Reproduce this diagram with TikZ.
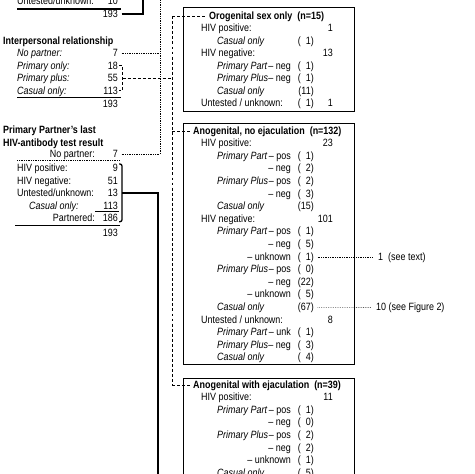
\documentclass[tikz,border=0pt]{standalone}
\usepackage{fontspec}
\setmainfont{Liberation Sans}[FakeStretch=0.85]
\usetikzlibrary{calc}
\newcommand\figfont{\fontsize{9}{10}\selectfont}
\tikzset{
  txt/.style      ={inner sep=0pt, font=\figfont},
  lvA/.style      ={txt, anchor=base west},
  lvB/.style      ={txt, anchor=base west, font=\figfont\itshape},
  ttl/.style      ={txt, anchor=base west, font=\figfont\bfseries},
  sfx/.style      ={txt, anchor=base east},
  cnt/.style      ={txt, anchor=base east},
  panel/.style    ={draw, line width=0.6pt, inner sep=0pt, anchor=north west,
                    minimum width=5.13cm},
  rulethick/.style={line width=1.4pt},
  rulethin/.style ={line width=0.6pt},
  solidlink/.style={line width=1.1pt},
  dashlink/.style ={line width=0.7pt, dash pattern=on 2.5pt off 1.8pt},
  dotlink/.style  ={line width=0.5pt, densely dotted},
}
\begin{document}
\begin{tikzpicture}[x=0.03cm, y=-0.03cm]
\useasboundingbox (0,0) rectangle (474,474);

% --- junction points ---
\coordinate (stop)   at (143,0);
\coordinate (dtop)   at (160,0);
\coordinate (trunk)  at (172,0);
\coordinate (bot)    at (158,480);

% --- left: tail of previous block ---
\node[lvA] (unL) at (17,4.5) {Untested/unknown:};
\node[cnt] (unN) at (118,4.5) {10};
\draw[rulethick] (17,9) -- (121,9);
\node[cnt] (t1) at (118,17.5) {193};

% --- left: interpersonal relationship ---
\node[ttl] (ipH) at (3,44) {Interpersonal relationship};
\node[lvB] (ipNoL)   at (17,56.5) {No partner:};
\node[lvB] (ipPriL)  at (17,69)   {Primary only:};
\node[lvB] (ipPlusL) at (17,81.5) {Primary plus:};
\node[lvB] (ipCasL)  at (17,94)   {Casual only:};
\node[cnt] (ipNo)   at (118,56.5) {7};
\node[cnt] (ipPri)  at (118,69)   {18};
\node[cnt] (ipPlus) at (118,81.5) {55};
\node[cnt] (ipCas)  at (118,94)   {113};
\draw[rulethick] (17,97.5) -- (121,97.5);
\node[cnt] (t2) at (118,107.5) {193};

% --- left: primary partner's test result ---
\node[ttl] (ppH1) at (3,133)   {Primary Partner's last};
\node[ttl] (ppH2) at (3,146.5) {HIV-antibody test result};
\node[sfx] (ppNoL)   at (95,157.5)  {No partner:};
\node[cnt] (ppNo)    at (118,157.5) {7};
\draw[dotlink, line width=0.7pt] (17,160.5) -- (120,160.5);
\node[lvA] (ppPosL)  at (17,171.5) {HIV positive:};
\node[lvA] (ppNegL)  at (17,184)   {HIV negative:};
\node[lvA] (ppUnkL)  at (17,196.5) {Untested/unknown:};
\node[lvB] (ppCasL)  at (29,209)   {Casual only:};
\node[sfx] (ppPartL) at (95,221.5) {Partnered:};
\node[cnt] (ppPos)  at (118,171.5) {9};
\node[cnt] (ppNeg)  at (118,184)   {51};
\node[cnt] (ppUnk)  at (118,196.5) {13};
\node[cnt] (ppCas)  at (118,209)   {113};
\node[cnt] (ppPart) at (118,221.5) {186};
\draw[rulethin] (95,211.5) -- (119,211.5);
\draw[rulethick] (15,225.5) -- (120,225.5);
\node[cnt] (t3) at (118,236.5) {193};

% --- panels ---
\node[panel, minimum height=3.12cm] (oro)  at (183,7)   {};
\node[panel, minimum height=7.23cm] (noej) at (183,123) {};
\node[panel, minimum height=3.8cm]  (ejac) at (183,378) {};

% --- panel 1: orogenital ---
\node[ttl] (oT) at (209,19) {Orogenital sex only\ \ (n=15)};
\node[lvA] (o1) at (201,31.5)  {HIV positive:};
\node[cnt] (o1n) at (333,31.5) {1};
\node[lvB] (o2) at (217,44)    {Casual only};
\node[cnt] (o2p) at (314,44)   {(\phantom{0}1)};
\node[lvA] (o3) at (201,56.5)  {HIV negative:};
\node[cnt] (o3n) at (333,56.5) {13};
\node[lvB] (o4) at (217,69)    {Primary Part};
\node[sfx] (o4s) at (291,69)   {\textendash\ neg};
\node[cnt] (o4p) at (314,69)   {(\phantom{0}1)};
\node[lvB] (o5) at (217,81.5)  {Primary Plus};
\node[sfx] (o5s) at (291,81.5) {\textendash\ neg};
\node[cnt] (o5p) at (314,81.5) {(\phantom{0}1)};
\node[lvB] (o6) at (217,94)    {Casual only};
\node[cnt] (o6p) at (314,94)   {(11)};
\node[lvA] (o7) at (201,106.5) {Untested / unknown:};
\node[cnt] (o7p) at (314,106.5) {(\phantom{0}1)};
\node[cnt] (o7n) at (333,106.5) {1};

% --- panel 2: anogenital, no ejaculation ---
\node[ttl] (nT) at (193,134) {Anogenital, no ejaculation\ \ (n=132)};
\node[lvA] (n1)  at (201,146.6) {HIV positive:};
\node[cnt] (n1n) at (333,146.6) {23};
\node[lvB] (n2)  at (217,159.2) {Primary Part};
\node[sfx] (n2s) at (291,159.2) {\textendash\ pos};
\node[cnt] (n2p) at (314,159.2) {(\phantom{0}1)};
\node[sfx] (n3s) at (291,171.8) {\textendash\ neg};
\node[cnt] (n3p) at (314,171.8) {(\phantom{0}2)};
\node[lvB] (n4)  at (217,184.4) {Primary Plus};
\node[sfx] (n4s) at (291,184.4) {\textendash\ pos};
\node[cnt] (n4p) at (314,184.4) {(\phantom{0}2)};
\node[sfx] (n5s) at (291,197)   {\textendash\ neg};
\node[cnt] (n5p) at (314,197)   {(\phantom{0}3)};
\node[lvB] (n6)  at (217,209.6) {Casual only};
\node[cnt] (n6p) at (314,209.6) {(15)};
\node[lvA] (n7)  at (201,222.2) {HIV negative:};
\node[cnt] (n7n) at (333,222.2) {101};
\node[lvB] (n8)  at (217,234.8) {Primary Part};
\node[sfx] (n8s) at (291,234.8) {\textendash\ pos};
\node[cnt] (n8p) at (314,234.8) {(\phantom{0}1)};
\node[sfx] (n9s) at (291,247.4) {\textendash\ neg};
\node[cnt] (n9p) at (314,247.4) {(\phantom{0}5)};
\node[sfx] (n10s) at (291,260)  {\textendash\ unknown};
\node[cnt] (n10p) at (314,260)  {(\phantom{0}1)};
\node[lvB] (n11)  at (217,272.6) {Primary Plus};
\node[sfx] (n11s) at (291,272.6) {\textendash\ pos};
\node[cnt] (n11p) at (314,272.6) {(\phantom{0}0)};
\node[sfx] (n12s) at (291,285.2) {\textendash\ neg};
\node[cnt] (n12p) at (314,285.2) {(22)};
\node[sfx] (n13s) at (291,297.8) {\textendash\ unknown};
\node[cnt] (n13p) at (314,297.8) {(\phantom{0}5)};
\node[lvB] (n14)  at (217,310.4) {Casual only};
\node[cnt] (n14p) at (314,310.4) {(67)};
\node[lvA] (n15)  at (201,323)   {Untested / unknown:};
\node[cnt] (n15n) at (333,323)   {8};
\node[lvB] (n16)  at (217,335.6) {Primary Part};
\node[sfx] (n16s) at (291,335.6) {\textendash\ unk};
\node[cnt] (n16p) at (314,335.6) {(\phantom{0}1)};
\node[lvB] (n17)  at (217,348.2) {Primary Plus};
\node[sfx] (n17s) at (291,348.2) {\textendash\ neg};
\node[cnt] (n17p) at (314,348.2) {(\phantom{0}3)};
\node[lvB] (n18)  at (217,360.8) {Casual only};
\node[cnt] (n18p) at (314,360.8) {(\phantom{0}4)};

% --- notes beside panel 2 ---
\node[lvA] (note1) at (378,260)   {1\ \ (see text)};
\node[lvA] (note2) at (376,310.4) {10 (see Figure 2)};

% --- panel 3: anogenital with ejaculation ---
\node[ttl] (eT) at (193,388) {Anogenital with ejaculation\ \ (n=39)};
\node[lvA] (e1)  at (201,400.6) {HIV positive:};
\node[cnt] (e1n) at (333,400.6) {11};
\node[lvB] (e2)  at (217,413.2) {Primary Part};
\node[sfx] (e2s) at (291,413.2) {\textendash\ pos};
\node[cnt] (e2p) at (314,413.2) {(\phantom{0}1)};
\node[sfx] (e3s) at (291,425.8) {\textendash\ neg};
\node[cnt] (e3p) at (314,425.8) {(\phantom{0}0)};
\node[lvB] (e4)  at (217,438.4) {Primary Plus};
\node[sfx] (e4s) at (291,438.4) {\textendash\ pos};
\node[cnt] (e4p) at (314,438.4) {(\phantom{0}2)};
\node[sfx] (e5s) at (291,451)   {\textendash\ neg};
\node[cnt] (e5p) at (314,451)   {(\phantom{0}2)};
\node[sfx] (e6s) at (291,463.6) {\textendash\ unknown};
\node[cnt] (e6p) at (314,463.6) {(\phantom{0}1)};
\node[lvB] (e7)  at (217,476.2) {Casual only};
\node[cnt] (e7p) at (314,476.2) {(\phantom{0}5)};

% --- connectors ---
\draw[solidlink] ([xshift=3pt]t1.east) -| (stop);
\draw[dotlink] ([xshift=3pt]ipNo.east) -- (ipNo.east -| dtop);
\draw[dotlink] ([xshift=3pt]ppNo.east) -| (dtop);
\draw[dashlink] ([xshift=1pt]ipPri.east) -| ([xshift=4pt]ipCas.east)
                -- ([xshift=1pt]ipCas.east);
\draw[dashlink] ([xshift=4pt]ipPlus.east) -- (ipPlus.east -| trunk);
\draw[dashlink, shorten >=2pt] (trunk |- oT.west) -- (oT.west);
\draw[dashlink] (trunk |- oT.west) -- (trunk |- eT.west);
\draw[dashlink, shorten >=2pt] (trunk |- nT.west) -- (nT.west);
\draw[dashlink, shorten >=2pt] (trunk |- eT.west) -- (eT.west);
\draw[solidlink, rounded corners=2pt] ([xshift=1pt]ppPos.north east)
     -| ([xshift=3.5pt]ppPart.south east) -- ([xshift=1pt]ppPart.south east);
\draw[solidlink] ([xshift=3.5pt]ppUnk.east) -| (bot);
\draw[dotlink, shorten <=3pt, shorten >=4pt] (n10p.east) -- (note1.west);
\draw[dotlink, shorten <=3pt, shorten >=4pt] (n14p.east) -- (note2.west);

\end{tikzpicture}
\end{document}
